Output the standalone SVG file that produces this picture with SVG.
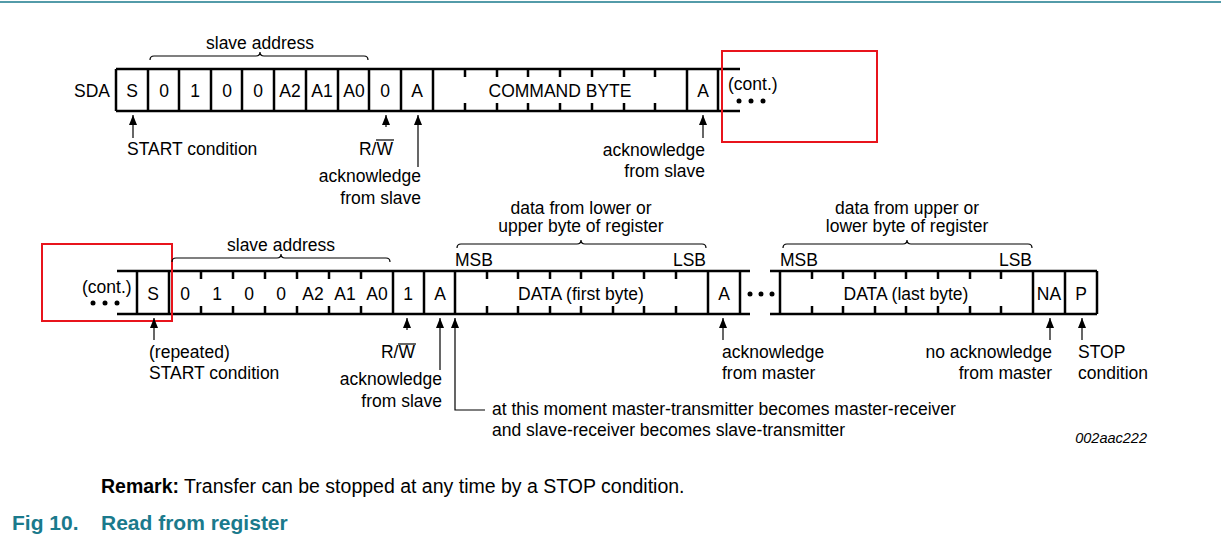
<svg xmlns="http://www.w3.org/2000/svg" width="1221" height="539" viewBox="0 0 1221 539">
<defs>
<marker id="ah" viewBox="0 0 10 8" refX="10" refY="4" markerWidth="10" markerHeight="8" markerUnits="userSpaceOnUse" orient="auto-start-reverse"><path d="M0,0 L10,4 L0,8 Z" fill="#000"/></marker>
<style>
text{font-family:"Liberation Sans",Arial,sans-serif;font-size:17.5px;fill:#000}
.c{text-anchor:middle}.r{text-anchor:end}
.l{stroke:#000;stroke-width:2.5;fill:none}
.t{stroke:#000;stroke-width:2.5}
.a{stroke:#000;stroke-width:1.2;fill:none;marker-start:url(#ah)}
.br{stroke:#000;stroke-width:1.2;fill:none}
.red{fill:none;stroke:#e8141c;stroke-width:2}
</style>
</defs>
<rect width="1221" height="539" fill="#fff"/>
<line x1="0" y1="2" x2="1221" y2="2" stroke="#1a7a8c" stroke-width="1.5"/>

<g id="row1">
<text x="74" y="97">SDA</text>
<path class="l" d="M116,69 H740 M116,111 H740"/>
<g class="t">
<line x1="116" y1="69" x2="116" y2="111"/><line x1="148" y1="69" x2="148" y2="111"/><line x1="179" y1="69" x2="179" y2="111"/><line x1="211" y1="69" x2="211" y2="111"/><line x1="242" y1="69" x2="242" y2="111"/><line x1="274" y1="69" x2="274" y2="111"/><line x1="306" y1="69" x2="306" y2="111"/><line x1="338" y1="69" x2="338" y2="111"/><line x1="369" y1="69" x2="369" y2="111"/><line x1="401" y1="69" x2="401" y2="111"/><line x1="433" y1="69" x2="433" y2="111"/><line x1="687" y1="69" x2="687" y2="111"/><line x1="718" y1="69" x2="718" y2="111"/>
<path d="M465,69v8M497,69v8M528,69v8M560,69v8M592,69v8M624,69v8M655,69v8M465,111v-8M497,111v-8M528,111v-8M560,111v-8M592,111v-8M624,111v-8M655,111v-8"/>
</g>
<text class="c" x="132" y="97">S</text><text class="c" x="164" y="97">0</text><text class="c" x="195" y="97">1</text><text class="c" x="227" y="97">0</text><text class="c" x="258" y="97">0</text><text class="c" x="290" y="97">A2</text><text class="c" x="322" y="97">A1</text><text class="c" x="354" y="97">A0</text><text class="c" x="385" y="97">0</text><text class="c" x="417" y="97">A</text>
<text class="c" x="560" y="97">COMMAND BYTE</text><text class="c" x="703" y="97">A</text>
<text x="728" y="90">(cont.)</text>
<circle cx="739" cy="101" r="2.5"/><circle cx="751" cy="101" r="2.5"/><circle cx="763" cy="101" r="2.5"/>
<rect class="red" x="722" y="51" width="155" height="91"/>
<path class="br" d="M150,60 q0,-4 4,-4 H256 q4,0 4,-4 q0,4 4,4 H364 q4,0 4,4"/>
<text class="c" x="260" y="49">slave address</text>
</g>

<g id="row2">
<path class="l" d="M117,271 H750 M117,314 H750 M770,271 H1097 M770,314 H1097"/>
<g class="t">
<line x1="137" y1="271" x2="137" y2="314"/><line x1="169" y1="271" x2="169" y2="314"/><line x1="393" y1="271" x2="393" y2="314"/><line x1="424" y1="271" x2="424" y2="314"/><line x1="455" y1="271" x2="455" y2="314"/><line x1="708" y1="271" x2="708" y2="314"/><line x1="740" y1="271" x2="740" y2="314"/>
<line x1="780" y1="271" x2="780" y2="314"/><line x1="1033" y1="271" x2="1033" y2="314"/><line x1="1065" y1="271" x2="1065" y2="314"/><line x1="1097" y1="271" x2="1097" y2="314"/>
<path d="M201,271v8M233,271v8M265,271v8M297,271v8M329,271v8M361,271v8M201,314v-8M233,314v-8M265,314v-8M297,314v-8M329,314v-8M361,314v-8"/>
<path d="M487,271v8M518,271v8M550,271v8M581,271v8M613,271v8M644,271v8M676,271v8M487,314v-8M518,314v-8M550,314v-8M581,314v-8M613,314v-8M644,314v-8M676,314v-8"/>
<path d="M812,271v8M843,271v8M875,271v8M906,271v8M938,271v8M970,271v8M1001,271v8M812,314v-8M843,314v-8M875,314v-8M906,314v-8M938,314v-8M970,314v-8M1001,314v-8"/>
</g>
<text x="82" y="293">(cont.)</text>
<circle cx="93" cy="303" r="2.5"/><circle cx="105" cy="303" r="2.5"/><circle cx="117" cy="303" r="2.5"/>
<rect class="red" x="42" y="244" width="130" height="77"/>
<text class="c" x="153" y="300">S</text><text class="c" x="185" y="300">0</text><text class="c" x="217" y="300">1</text><text class="c" x="249" y="300">0</text><text class="c" x="281" y="300">0</text><text class="c" x="313" y="300">A2</text><text class="c" x="345" y="300">A1</text><text class="c" x="377" y="300">A0</text><text class="c" x="408" y="300">1</text><text class="c" x="440" y="300">A</text>
<text class="c" x="581" y="300">DATA (first byte)</text><text class="c" x="724" y="300">A</text>
<circle cx="750" cy="294" r="2.5"/><circle cx="761" cy="294" r="2.5"/><circle cx="772" cy="294" r="2.5"/>
<text class="c" x="906" y="300">DATA (last byte)</text><text class="c" x="1049" y="300">NA</text><text class="c" x="1081" y="300">P</text>
<path class="br" d="M172,262 q0,-4 4,-4 H277 q4,0 4,-4 q0,4 4,4 H386 q4,0 4,4"/>
<text class="c" x="281" y="251">slave address</text>
<path class="br" d="M457,248 q0,-4 4,-4 H577 q4,0 4,-4 q0,4 4,4 H702 q4,0 4,4"/>
<text class="c" x="581" y="214">data from lower or</text><text class="c" x="581" y="232">upper byte of register</text>
<text x="455" y="266">MSB</text><text class="r" x="706" y="266">LSB</text>
<path class="br" d="M783,248 q0,-4 4,-4 H903 q4,0 4,-4 q0,4 4,4 H1028 q4,0 4,4"/>
<text class="c" x="907" y="214">data from upper or</text><text class="c" x="907" y="232">lower byte of register</text>
<text x="780" y="266">MSB</text><text class="r" x="1032" y="266">LSB</text>
</g>

<g id="connectors">
<line class="a" x1="133" y1="115" x2="133" y2="138"/>
<line class="a" x1="386" y1="115" x2="386" y2="127"/>
<line class="a" x1="418" y1="115" x2="418" y2="167"/>
<line class="a" x1="703" y1="115" x2="703" y2="138"/>
<line class="a" x1="154" y1="318" x2="154" y2="340"/>
<line class="a" x1="407" y1="318" x2="407" y2="330"/>
<line class="a" x1="440" y1="318" x2="440" y2="370"/>
<path class="a" d="M455,318 V410 H485"/>
<line class="a" x1="723" y1="318" x2="723" y2="340"/>
<line class="a" x1="1050" y1="318" x2="1050" y2="340"/>
<line class="a" x1="1082" y1="318" x2="1082" y2="340"/>
</g>

<g id="labels">
<text x="127" y="155">START condition</text>
<text class="c" x="376" y="155">R/W</text><line x1="376" y1="140" x2="394" y2="140" stroke="#000" stroke-width="1.2"/>
<text class="r" x="421" y="182">acknowledge</text><text class="r" x="421" y="204">from slave</text>
<text class="r" x="705" y="156">acknowledge</text><text class="r" x="705" y="177">from slave</text>
<text x="149" y="358">(repeated)</text><text x="149" y="379">START condition</text>
<text class="c" x="398" y="358">R/W</text><line x1="398" y1="344" x2="416" y2="344" stroke="#000" stroke-width="1.2"/>
<text class="r" x="442" y="385">acknowledge</text><text class="r" x="442" y="407">from slave</text>
<text x="492" y="415">at this moment master-transmitter becomes master-receiver</text>
<text x="492" y="436">and slave-receiver becomes slave-transmitter</text>
<text x="722" y="358">acknowledge</text><text x="722" y="379">from master</text>
<text class="r" x="1052" y="358">no acknowledge</text><text class="r" x="1052" y="379">from master</text>
<text x="1078" y="358">STOP</text><text x="1078" y="379">condition</text>
<text class="r" x="1147" y="443" style="font-size:14.5px;font-style:italic">002aac222</text>
<text x="101" y="493" style="font-size:19.5px"><tspan font-weight="bold">Remark:</tspan> Transfer can be stopped at any time by a STOP condition.</text>
<text x="12" y="530" style="font-size:21px;font-weight:bold;fill:#1a7a8c">Fig 10.</text>
<text x="101" y="530" style="font-size:21px;font-weight:bold;fill:#1a7a8c">Read from register</text>
</g>
</svg>
